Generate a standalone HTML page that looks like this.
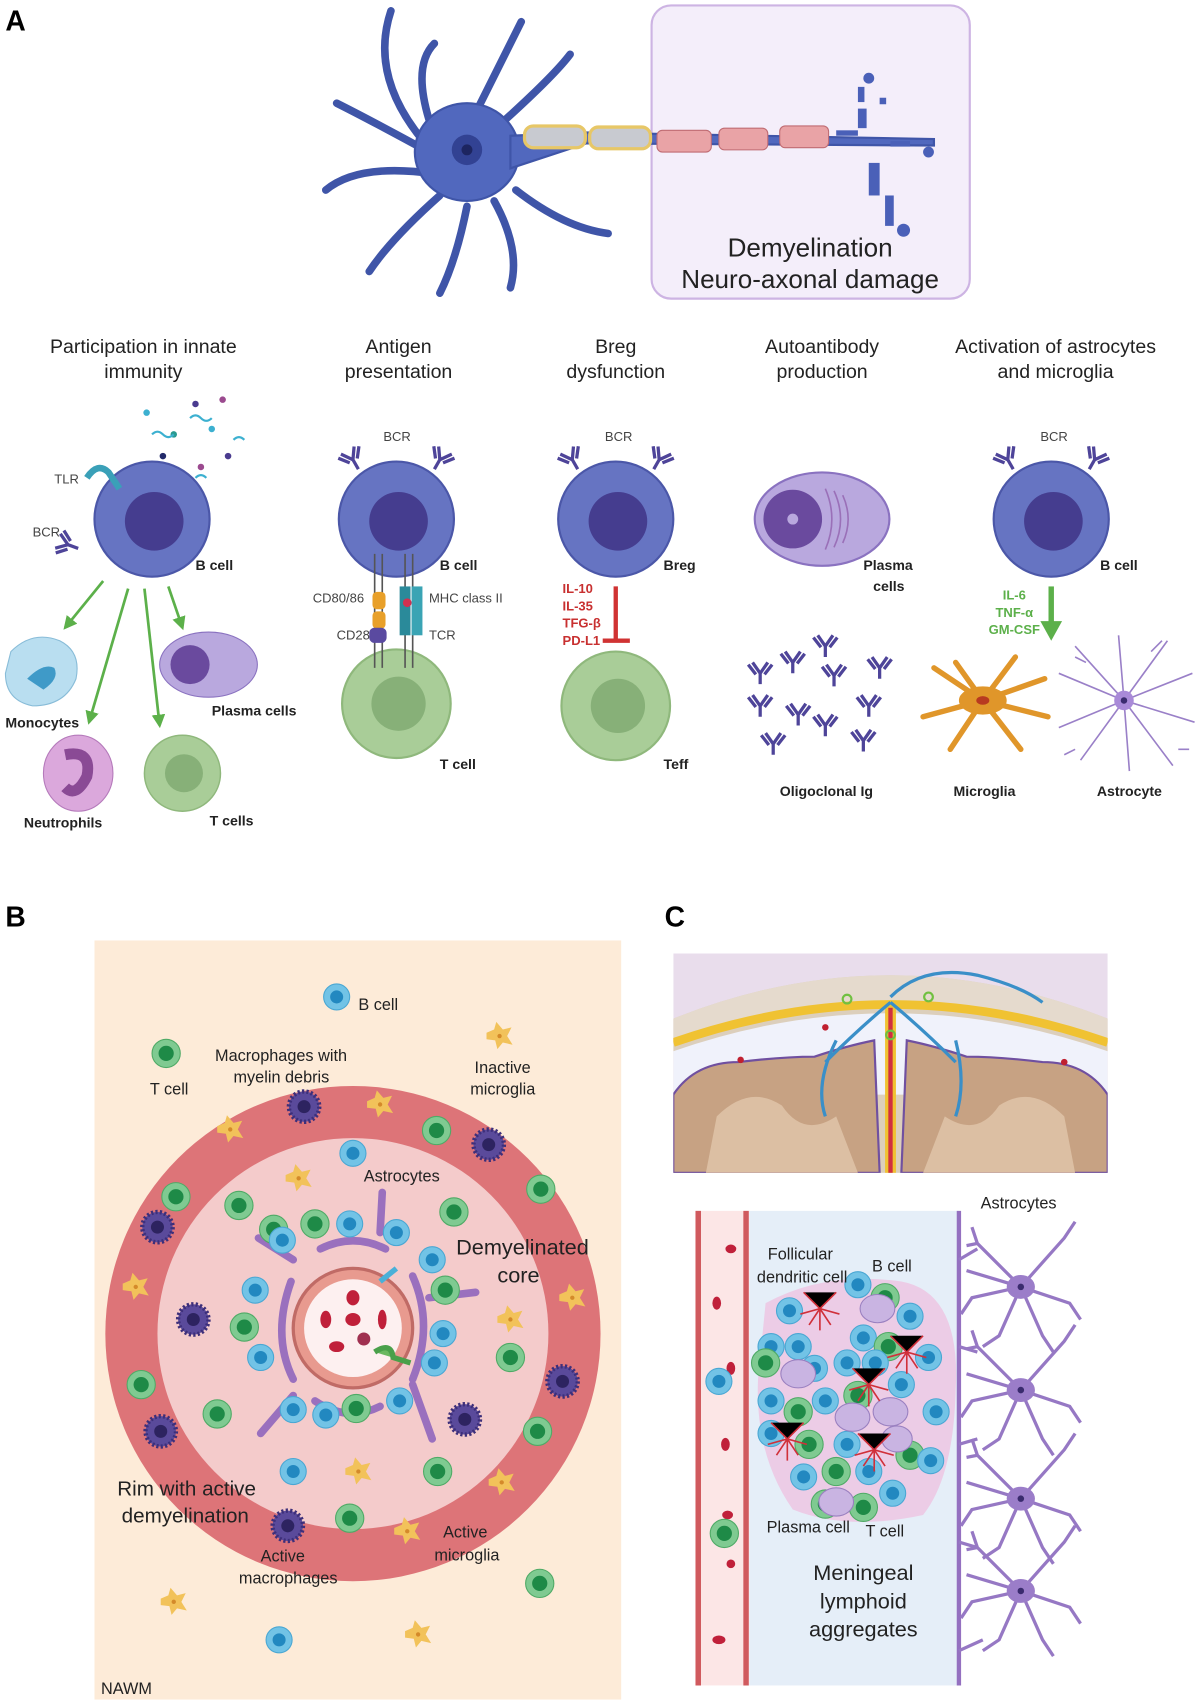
<!DOCTYPE html>
<html><head><meta charset="utf-8"><style>
html,body{margin:0;padding:0;background:#fff;}
svg{display:block;font-family:"Liberation Sans Narrow","Liberation Sans",sans-serif;}
.h{font-size:18px;fill:#222;text-anchor:middle;}
.l{font-size:13px;fill:#222;font-weight:bold;}
.s{font-size:12px;fill:#444;}
.bl{font-size:15px;fill:#222;}
</style></head><body>
<svg width="1200" height="1705" viewBox="0 0 1105 1570" preserveAspectRatio="none" xmlns="http://www.w3.org/2000/svg">
<defs>
<marker id="ga" viewBox="0 0 10 10" refX="8" refY="5" markerWidth="5" markerHeight="5" orient="auto"><path d="M0,0 L10,5 L0,10 Z" fill="#5cb04a"/></marker>
<g id="bc"><circle r="53" fill="#6674c2" stroke="#4b57a8" stroke-width="2"/><circle cx="2" cy="2" r="27" fill="#453d8f"/></g>
<g id="tc"><circle r="50" fill="#a9cd98" stroke="#8fb87c" stroke-width="2"/><circle cx="2" cy="0" r="25" fill="#87b078"/></g>
<g id="ab" stroke="#4e4499" stroke-width="3" fill="none"><path d="M0,0 V-10 M0,-10 L-7,-20 M0,-10 L7,-20 M-4,-9 L-11,-18 M4,-9 L11,-18"/></g>
<g id="blue"><circle r="12" fill="#72c3e6" stroke="#4aa7d3"/><circle r="6" fill="#2288c0"/></g>
<g id="grn"><circle r="13" fill="#7fca91" stroke="#4faa66"/><circle r="7" fill="#1e8a47"/></g>
<g id="ylw"><path d="M-12,-3 L-5,-6 L-3,-13 L3,-6 L11,-8 L7,0 L12,8 L3,6 L-2,12 L-4,4 L-12,3 Z" fill="#f2c25a"/><circle r="2" fill="#d48a2a"/></g>
<g id="mac"><circle r="14" fill="#5a4a9b" stroke="#3d2f7a" stroke-width="4" stroke-dasharray="2 2"/><circle r="6" fill="#2d2360"/></g>
<g id="ast"><g stroke="#9678c4" stroke-width="3" fill="none"><path d="M0,0 L-40,-40 L-50,-38 M-40,-40 L-45,-55 M0,0 L40,-45 L50,-60 M0,0 L-45,10 L-55,25 M0,0 L45,15 L55,30 M0,0 L-20,45 L-35,55 M0,0 L20,45 L30,60 M0,0 L-50,-15"/></g><ellipse rx="13" ry="11" fill="#9b7dc9"/><circle r="3" fill="#3a2b6e"/></g>
</defs>

<!-- Panel A -->
<text x="5" y="28" font-size="26" font-weight="bold" font-family="Liberation Sans">A</text>
<rect x="600" y="5" width="293" height="270" rx="18" fill="#f4eefa" stroke="#cdb4e3" stroke-width="2"/>
<g fill="#5168be" stroke="#3f55a8" stroke-width="2">
<path d="M390,130 Q340,70 360,10 M395,110 Q380,60 400,40 M440,100 Q470,40 480,20 M460,115 Q510,70 525,50 M400,160 Q330,150 300,175 M405,180 Q360,220 340,250 M430,190 Q420,240 405,270 M455,185 Q480,230 470,265 M475,175 Q520,210 560,215 M395,140 Q340,110 310,95" fill="none" stroke-width="7" stroke-linecap="round"/>
<ellipse cx="430" cy="140" rx="48" ry="45"/>
<path d="M470,125 L540,122 L860,128 L860,134 L540,132 L470,155 Z"/>
</g>
<circle cx="430" cy="138" r="14" fill="#324293"/><circle cx="430" cy="138" r="5" fill="#1d2560"/>
<rect x="483" y="116" width="56" height="20" rx="8" fill="#c8cad0" stroke="#e7c767" stroke-width="3"/>
<rect x="543" y="117" width="56" height="20" rx="8" fill="#c8cad0" stroke="#e7c767" stroke-width="3"/>
<g fill="#e9a3a6" stroke="#c06c73"><rect x="605" y="120" width="50" height="20" rx="5"/><rect x="662" y="118" width="45" height="20" rx="5"/><rect x="718" y="116" width="45" height="20" rx="5"/></g>
<g fill="#4a60b8"><circle cx="800" cy="72" r="5"/><circle cx="855" cy="140" r="5"/><circle cx="832" cy="212" r="6"/><rect x="770" y="120" width="20" height="5"/><rect x="790" y="100" width="8" height="18"/><rect x="800" y="150" width="10" height="30"/><rect x="815" y="180" width="8" height="28"/><rect x="810" y="90" width="6" height="6"/><rect x="820" y="130" width="18" height="5"/><rect x="790" y="80" width="6" height="14"/></g>
<text x="746" y="236" font-size="24" text-anchor="middle" fill="#222">Demyelination</text>
<text x="746" y="265" font-size="24" text-anchor="middle" fill="#222">Neuro-axonal damage</text>

<text class="h" x="132" y="325">Participation in innate</text><text class="h" x="132" y="348">immunity</text>
<text class="h" x="367" y="325">Antigen</text><text class="h" x="367" y="348">presentation</text>
<text class="h" x="567" y="325">Breg</text><text class="h" x="567" y="348">dysfunction</text>
<text class="h" x="757" y="325">Autoantibody</text><text class="h" x="757" y="348">production</text>
<text class="h" x="972" y="325">Activation of astrocytes</text><text class="h" x="972" y="348">and microglia</text>

<!-- col1 -->
<use href="#bc" x="140" y="478"/>
<text class="s" x="50" y="445">TLR</text><text class="s" x="30" y="494">BCR</text>
<path d="M80,440 Q90,425 100,435 L110,450" stroke="#3aa0b8" stroke-width="6" fill="none"/>
<use href="#ab" transform="translate(72,505) rotate(-70)"/>
<g fill="#3cb0d0"><circle cx="135" cy="380" r="3"/><circle cx="180" cy="372" r="3" fill="#4a3b8f"/><circle cx="205" cy="368" r="3" fill="#9b4a8f"/><circle cx="160" cy="400" r="3" fill="#2a9a90"/><circle cx="195" cy="395" r="3"/><circle cx="210" cy="420" r="3" fill="#4a3b8f"/><circle cx="150" cy="420" r="3" fill="#222a6a"/><circle cx="185" cy="430" r="3" fill="#9b4a8f"/></g>
<path d="M140,400 q5,-5 10,0 t10,0 M175,385 q5,-5 10,0 t10,0 M215,405 q5,-5 10,0 M180,440 q5,-5 10,0" stroke="#3cb0d0" stroke-width="2" fill="none"/>
<text class="l" x="180" y="525">B cell</text>
<g stroke="#5cb04a" stroke-width="2.5" fill="none" marker-end="url(#ga)"><path d="M95,535 L60,578"/><path d="M118,542 L82,665"/><path d="M133,542 L147,668"/><path d="M155,540 L168,578"/></g>
<path d="M10,600 Q30,580 55,590 Q75,600 70,625 Q60,650 30,650 Q5,645 5,620 Z" fill="#b9def0" stroke="#88bcd8"/>
<path d="M25,625 Q40,610 50,615 Q55,625 40,635 Z" fill="#3f9ac8"/>
<text class="l" x="5" y="670">Monocytes</text>
<ellipse cx="72" cy="712" rx="32" ry="35" fill="#dba8dc" stroke="#b57abb"/>
<path d="M60,695 Q85,690 80,715 Q70,735 60,725" stroke="#8a4a95" stroke-width="10" fill="none"/>
<text class="l" x="22" y="762">Neutrophils</text>
<use href="#tc" transform="translate(168,712) scale(0.7)"/>
<text class="l" x="193" y="760">T cells</text>
<ellipse cx="192" cy="612" rx="45" ry="30" fill="#b9a8de" stroke="#8a72c0"/><circle cx="175" cy="612" r="18" fill="#6a4a9e"/>
<text class="l" x="195" y="659">Plasma cells</text>

<!-- col2 -->
<use href="#bc" x="365" y="478"/><use href="#tc" x="365" y="648"/>
<use href="#ab" transform="translate(330,432) rotate(-30)"/><use href="#ab" transform="translate(400,432) rotate(30)"/>
<text class="s" x="353" y="406">BCR</text><text class="l" x="405" y="525">B cell</text><text class="l" x="405" y="708">T cell</text>
<g stroke="#555" stroke-width="1.5"><path d="M345,510 V615 M352,510 V615 M373,510 V615 M380,510 V615"/></g>
<rect x="343" y="545" width="12" height="16" rx="4" fill="#e8a02a"/><rect x="343" y="563" width="12" height="16" rx="4" fill="#e8a02a"/>
<rect x="340" y="578" width="16" height="14" rx="5" fill="#5a4aa0"/>
<rect x="368" y="540" width="10" height="45" fill="#2a8a9a"/><rect x="379" y="540" width="10" height="45" fill="#3aa4b4"/><circle cx="375" cy="555" r="4" fill="#d03050"/>
<text class="s" x="288" y="555">CD80/86</text><text class="s" x="310" y="589">CD28</text><text class="s" x="395" y="555">MHC class II</text><text class="s" x="395" y="589">TCR</text>

<!-- col3 -->
<use href="#bc" x="567" y="478"/><use href="#tc" x="567" y="650"/>
<use href="#ab" transform="translate(532,432) rotate(-30)"/><use href="#ab" transform="translate(602,432) rotate(30)"/>
<text class="s" x="557" y="406">BCR</text><text class="l" x="611" y="525">Breg</text><text class="l" x="611" y="708">Teff</text>
<path d="M567,540 V590 M555,590 H580" stroke="#d03333" stroke-width="4"/>
<g font-size="12" fill="#c83030" font-weight="bold"><text x="518" y="546">IL-10</text><text x="518" y="562">IL-35</text><text x="518" y="578">TFG-β</text><text x="518" y="594">PD-L1</text></g>

<!-- col4 -->
<ellipse cx="757" cy="478" rx="62" ry="43" fill="#b9a8de" stroke="#8a72c0" stroke-width="2"/><circle cx="730" cy="478" r="27" fill="#6a4a9e"/><circle cx="730" cy="478" r="5" fill="#b9a8de"/>
<g stroke="#9a70b8" stroke-width="1.5" fill="none"><path d="M760,450 q12,28 0,56 M768,452 q12,26 0,52 M776,456 q10,22 0,44"/></g>
<text class="l" x="795" y="525">Plasma</text><text class="l" x="804" y="544">cells</text>
<use href="#ab" x="700" y="630"/><use href="#ab" x="730" y="620"/><use href="#ab" x="760" y="605"/><use href="#ab" x="810" y="625"/><use href="#ab" x="700" y="660"/><use href="#ab" x="735" y="668"/><use href="#ab" x="768" y="632"/><use href="#ab" x="800" y="660"/><use href="#ab" x="712" y="695"/><use href="#ab" x="760" y="678"/><use href="#ab" x="795" y="692"/>
<text class="l" x="718" y="733">Oligoclonal Ig</text>

<!-- col5 -->
<use href="#bc" x="968" y="478"/>
<use href="#ab" transform="translate(933,432) rotate(-30)"/><use href="#ab" transform="translate(1003,432) rotate(30)"/>
<text class="s" x="958" y="406">BCR</text><text class="l" x="1013" y="525">B cell</text>
<path d="M968,540 V575" stroke="#5cb04a" stroke-width="5"/><path d="M958,572 L978,572 L968,590 Z" fill="#5cb04a"/>
<g font-size="12" fill="#5cb04a" font-weight="bold" text-anchor="middle"><text x="934" y="552">IL-6</text><text x="934" y="568">TNF-α</text><text x="934" y="584">GM-CSF</text></g>
<g stroke="#e0962a" stroke-width="5" fill="none" stroke-linecap="round"><path d="M905,645 L860,615 M905,645 L880,610 M905,645 L935,605 M905,645 L962,625 M905,645 L965,660 M905,645 L940,690 M905,645 L875,690 M905,645 L850,660"/></g>
<ellipse cx="905" cy="645" rx="22" ry="13" fill="#e0962a"/><ellipse cx="905" cy="645" rx="6" ry="4" fill="#b83a20"/>
<g stroke="#9a80c8" stroke-width="1.5" fill="none"><path d="M1035,645 L975,620 M1035,645 L990,595 M1035,645 L1030,585 M1035,645 L1075,590 M1035,645 L1098,620 M1035,645 L1100,665 M1035,645 L1080,705 M1035,645 L1040,710 M1035,645 L995,700 M1035,645 L975,670 M1000,610 l-10,-5 M1060,600 l10,-10 M1085,690 l10,0 M990,690 l-10,5"/></g>
<circle cx="1035" cy="645" r="9" fill="#a98ad8"/><circle cx="1035" cy="645" r="3" fill="#3a2b6e"/>
<text class="l" x="878" y="733">Microglia</text><text class="l" x="1010" y="733">Astrocyte</text>

<!-- Panel B -->
<text x="5" y="853" font-size="26" font-weight="bold" font-family="Liberation Sans">B</text>
<rect x="87" y="866" width="485" height="699" fill="#fdebd8"/>
<circle cx="325" cy="1228" r="228" fill="#dd7478"/>
<circle cx="325" cy="1228" r="180" fill="#f4cbcb"/>
<g stroke="#9a70be" stroke-width="7" fill="none" stroke-linecap="round"><path d="M270,1160 L238,1140 M350,1135 L352,1098 M395,1195 L438,1190 M380,1275 L398,1325 M270,1285 L240,1320 M295,1150 Q325,1135 355,1150 M380,1175 Q400,1220 380,1270 M350,1295 Q320,1310 290,1290 M270,1270 Q250,1230 268,1180"/></g>
<circle cx="325" cy="1223" r="55" fill="#e89a8f" stroke="#c06b66" stroke-width="3"/>
<circle cx="325" cy="1223" r="45" fill="#fdf0f0"/>
<g fill="#c0203a"><ellipse cx="325" cy="1195" rx="6" ry="7"/><ellipse cx="300" cy="1215" rx="5" ry="8"/><ellipse cx="325" cy="1215" rx="7" ry="6"/><ellipse cx="352" cy="1215" rx="4" ry="9"/><ellipse cx="310" cy="1240" rx="7" ry="5"/><ellipse cx="335" cy="1233" rx="6" ry="6" fill="#a03050"/></g>
<path d="M345,1245 Q360,1235 362,1250 L378,1255" stroke="#4aa04a" stroke-width="5" fill="#6ab860"/>
<path d="M350,1180 L365,1168" stroke="#4ab0d8" stroke-width="5"/>
<use href="#blue" x="310" y="918"/><use href="#grn" x="153" y="970"/><use href="#ylw" x="460" y="954"/>
<use href="#mac" x="280" y="1019"/><use href="#ylw" x="350" y="1017"/><use href="#ylw" x="212" y="1040"/><use href="#grn" x="402" y="1041"/><use href="#mac" x="450" y="1054"/><use href="#blue" x="325" y="1062"/><use href="#ylw" x="275" y="1085"/><use href="#grn" x="162" y="1102"/><use href="#grn" x="220" y="1110"/><use href="#grn" x="418" y="1116"/><use href="#grn" x="498" y="1095"/>
<use href="#mac" x="145" y="1130"/><use href="#grn" x="252" y="1132"/><use href="#blue" x="260" y="1142"/><use href="#grn" x="290" y="1127"/><use href="#blue" x="322" y="1127"/><use href="#blue" x="365" y="1135"/><use href="#blue" x="398" y="1160"/>
<use href="#blue" x="235" y="1188"/><use href="#grn" x="225" y="1222"/><use href="#blue" x="240" y="1250"/><use href="#grn" x="410" y="1188"/><use href="#blue" x="408" y="1228"/><use href="#blue" x="400" y="1255"/><use href="#ylw" x="470" y="1215"/><use href="#mac" x="178" y="1215"/><use href="#grn" x="470" y="1250"/><use href="#ylw" x="125" y="1185"/><use href="#ylw" x="527" y="1195"/>
<use href="#blue" x="270" y="1298"/><use href="#blue" x="300" y="1303"/><use href="#grn" x="328" y="1297"/><use href="#blue" x="368" y="1290"/><use href="#grn" x="200" y="1302"/><use href="#mac" x="428" y="1307"/><use href="#grn" x="130" y="1275"/><use href="#mac" x="518" y="1272"/><use href="#mac" x="148" y="1318"/><use href="#grn" x="495" y="1318"/>
<use href="#blue" x="270" y="1355"/><use href="#ylw" x="330" y="1355"/><use href="#grn" x="403" y="1355"/><use href="#ylw" x="462" y="1365"/><use href="#grn" x="322" y="1398"/><use href="#mac" x="265" y="1405"/><use href="#ylw" x="375" y="1410"/><use href="#grn" x="497" y="1458"/><use href="#ylw" x="160" y="1475"/><use href="#blue" x="257" y="1510"/><use href="#ylw" x="385" y="1505"/>
<g class="bl"><text x="330" y="930">B cell</text><text x="138" y="1008">T cell</text><text x="198" y="977">Macrophages with</text><text x="215" y="997">myelin debris</text><text x="437" y="988">Inactive</text><text x="433" y="1008">microglia</text><text x="335" y="1088">Astrocytes</text><text x="108" y="1377" font-size="19">Rim with active</text><text x="112" y="1402" font-size="19">demyelination</text><text x="240" y="1438">Active</text><text x="220" y="1458">macrophages</text><text x="408" y="1416">Active</text><text x="400" y="1437">microglia</text><text x="93" y="1560">NAWM</text></g>
<text x="420" y="1155" font-size="20" fill="#222">Demyelinated</text><text x="458" y="1181" font-size="20" fill="#222">core</text>

<!-- Panel C -->
<text x="612" y="853" font-size="26" font-weight="bold" font-family="Liberation Sans">C</text>
<svg x="620" y="878" width="400" height="202" viewBox="0 0 400 202" overflow="hidden">
<rect width="400" height="202" fill="#e9ddec"/>
<path d="M0,60 Q200,-20 400,60 L400,202 L0,202 Z" fill="#dccfbc"/>
<path d="M0,60 Q200,-20 400,60 L400,80 Q200,10 0,80 Z" fill="#e5dacd"/>
<path d="M0,82 Q200,12 400,82" stroke="#f0c232" stroke-width="8" fill="none"/>
<path d="M0,90 Q200,20 400,90 L400,130 L0,130 Z" fill="#f0f2fb"/>
<path d="M0,130 Q20,100 60,100 Q100,95 130,95 Q160,85 185,80 L190,202 L0,202 Z" fill="#c7a283" stroke="#7050a0" stroke-width="2"/>
<path d="M400,130 Q380,100 340,100 Q300,95 270,95 Q240,85 215,80 L210,202 L400,202 Z" fill="#c7a283" stroke="#7050a0" stroke-width="2"/>
<path d="M40,150 Q70,120 100,140 Q120,170 150,150 L170,202 L30,202 Z M360,150 Q330,120 300,140 Q280,170 250,150 L230,202 L370,202Z" fill="#dcbfa3"/>
<rect x="195" y="50" width="10" height="152" fill="#f0c232"/><rect x="198" y="50" width="4" height="152" fill="#d03040"/>
<path d="M200,40 Q230,10 280,20 Q320,30 340,45 M200,45 Q170,70 140,100 M200,45 Q230,70 260,100 M150,80 Q130,120 140,150 M260,80 Q270,120 260,150" stroke="#3a8fc8" stroke-width="3" fill="none"/>
<circle cx="160" cy="42" r="4" fill="none" stroke="#70c040" stroke-width="2"/><circle cx="235" cy="40" r="4" fill="none" stroke="#70c040" stroke-width="2"/><circle cx="200" cy="75" r="4" fill="none" stroke="#70c040" stroke-width="2"/>
<circle cx="62" cy="98" r="3" fill="#c02030"/><circle cx="140" cy="68" r="3" fill="#c02030"/><circle cx="360" cy="100" r="3" fill="#c02030"/>
</svg>
<rect x="640" y="1115" width="50" height="437" fill="#fce6e6"/>
<path d="M643,1115 V1552 M687,1115 V1552" stroke="#d05a5e" stroke-width="5"/>
<g fill="#c0203a"><ellipse cx="673" cy="1150" rx="5" ry="4"/><ellipse cx="660" cy="1200" rx="4" ry="6"/><ellipse cx="673" cy="1260" rx="4" ry="6"/><ellipse cx="668" cy="1330" rx="4" ry="6"/><ellipse cx="670" cy="1395" rx="5" ry="4"/><ellipse cx="673" cy="1440" rx="4" ry="4"/><ellipse cx="662" cy="1510" rx="6" ry="4"/></g>
<use href="#blue" x="662" y="1272"/><use href="#grn" x="667" y="1412"/>
<rect x="690" y="1115" width="193" height="437" fill="#e5eef8"/>
<path d="M883,1115 V1552" stroke="#9470c0" stroke-width="4"/>
<path d="M705,1200 Q760,1170 830,1180 Q885,1190 880,1280 Q878,1360 850,1395 Q780,1410 730,1390 Q695,1340 698,1270 Z" fill="#eccce6"/>
<use href="#blue" x="790" y="1183"/><use href="#grn" x="815" y="1195"/><use href="#blue" x="727" y="1207"/><use href="#blue" x="838" y="1212"/><use href="#blue" x="710" y="1240"/><use href="#blue" x="735" y="1240"/><use href="#blue" x="795" y="1232"/><use href="#grn" x="818" y="1240"/><use href="#blue" x="855" y="1250"/><use href="#grn" x="705" y="1255"/><use href="#blue" x="750" y="1260"/><use href="#blue" x="780" y="1255"/><use href="#blue" x="806" y="1255"/><use href="#blue" x="710" y="1290"/><use href="#grn" x="735" y="1300"/><use href="#blue" x="760" y="1290"/><use href="#grn" x="790" y="1285"/><use href="#blue" x="830" y="1275"/><use href="#blue" x="862" y="1300"/><use href="#blue" x="710" y="1320"/><use href="#grn" x="745" y="1330"/><use href="#blue" x="780" y="1330"/><use href="#grn" x="838" y="1340"/><use href="#blue" x="857" y="1345"/><use href="#blue" x="740" y="1360"/><use href="#grn" x="770" y="1355"/><use href="#blue" x="800" y="1355"/><use href="#grn" x="760" y="1385"/><use href="#grn" x="795" y="1388"/><use href="#blue" x="822" y="1375"/>
<g fill="#c9b4e2" stroke="#9a80c0"><ellipse cx="735" cy="1265" rx="16" ry="13"/><ellipse cx="785" cy="1305" rx="16" ry="13"/><ellipse cx="820" cy="1300" rx="16" ry="13"/><ellipse cx="808" cy="1205" rx="16" ry="13"/><ellipse cx="770" cy="1383" rx="16" ry="13"/><ellipse cx="826" cy="1325" rx="14" ry="12"/></g>
<g stroke="#d0303a" stroke-width="1.5"><path d="M740,1190 l15,15 l15,-15 m-15,15 l0,20 m0,-20 l-18,5 m18,-5 l18,5 m-18,-5 l-10,15 m10,-15 l10,15"/><path d="M820,1230 l15,15 l15,-15 m-15,15 l0,20 m0,-20 l-18,5 m18,-5 l18,5 m-18,-5 l-10,15 m10,-15 l10,15"/><path d="M785,1260 l15,15 l15,-15 m-15,15 l0,20 m0,-20 l-18,5 m18,-5 l18,5 m-18,-5 l-10,15 m10,-15 l10,15"/><path d="M710,1310 l15,15 l15,-15 m-15,15 l0,20 m0,-20 l-18,5 m18,-5 l18,5 m-18,-5 l-10,15 m10,-15 l10,15"/><path d="M790,1320 l15,15 l15,-15 m-15,15 l0,20 m0,-20 l-18,5 m18,-5 l18,5 m-18,-5 l-10,15 m10,-15 l10,15"/></g>
<g class="bl"><text x="707" y="1160">Follicular</text><text x="697" y="1181">dendritic cell</text><text x="803" y="1171">B cell</text><text x="706" y="1411">Plasma cell</text><text x="797" y="1415">T cell</text><text x="903" y="1113">Astrocytes</text></g>
<g font-size="20" fill="#222" text-anchor="middle"><text x="795" y="1455">Meningeal</text><text x="795" y="1481">lymphoid</text><text x="795" y="1507">aggregates</text></g>
<use href="#ast" x="940" y="1185"/><use href="#ast" x="940" y="1280"/><use href="#ast" x="940" y="1380"/><use href="#ast" x="940" y="1465"/>
<g stroke="#9678c4" stroke-width="3" fill="none"><path d="M883,1160 L900,1150 M883,1240 L900,1245 M883,1330 L900,1325 M883,1420 L900,1425 M883,1520 L905,1510"/></g>
</svg>
</body></html>
